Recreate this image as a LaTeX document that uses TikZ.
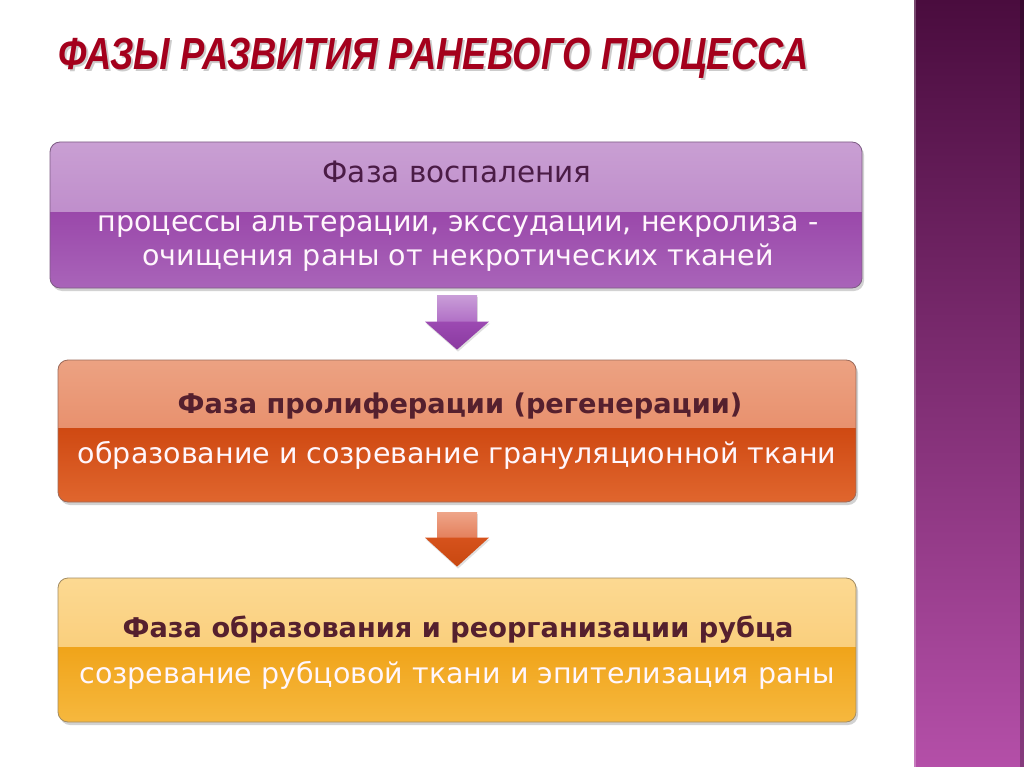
\documentclass[tikz,border=0pt]{standalone}
\usepackage{fontspec}
\usetikzlibrary{calc,shadows}
\newfontfamily\bodyf{DejaVu Sans}
\newfontfamily\titlef[FakeStretch=0.81]{Liberation Sans}
\definecolor{titlered}{HTML}{A4001C}
\definecolor{bandtop}{HTML}{4A0C3E}
\definecolor{bandbot}{HTML}{B44FA8}
\definecolor{hdpurple}{HTML}{4B1C46}
\definecolor{hdbrown}{HTML}{55202E}
\definecolor{bodywhite}{HTML}{FFF6FC}
\definecolor{pA}{HTML}{C99FD3}\definecolor{pB}{HTML}{B57CC3}\definecolor{pC}{HTML}{9A48AA}\definecolor{pD}{HTML}{A964B9}\definecolor{pE}{HTML}{7D5C84}
\definecolor{oA}{HTML}{ECA282}\definecolor{oB}{HTML}{E47E58}\definecolor{oC}{HTML}{CF4912}\definecolor{oD}{HTML}{E0662E}\definecolor{oE}{HTML}{9C6A5A}
\definecolor{yA}{HTML}{FCD992}\definecolor{yB}{HTML}{F8C466}\definecolor{yC}{HTML}{F0A41A}\definecolor{yD}{HTML}{F6B83E}\definecolor{yE}{HTML}{A38C62}
\definecolor{apA}{HTML}{C99DD8}\definecolor{apB}{HTML}{B170C6}\definecolor{apC}{HTML}{9C4AB2}\definecolor{apD}{HTML}{8A3AA0}
\definecolor{aoA}{HTML}{EEA488}\definecolor{aoB}{HTML}{E4805C}\definecolor{aoC}{HTML}{D6521C}\definecolor{aoD}{HTML}{C84810}
\tikzset{
  phase/.style n args={5}{rounded corners=10pt, draw=#5, line width=0.8pt,
    drop shadow={opacity=0.35, shadow xshift=2pt, shadow yshift=-3pt},
    path picture={
      \shade[sharp corners, top color=#1, bottom color=#2] (path picture bounding box.north west) rectangle ($(path picture bounding box.north east)!0.48!(path picture bounding box.south east)$);
      \shade[sharp corners, top color=#3, bottom color=#4] ($(path picture bounding box.north west)!0.48!(path picture bounding box.south west)$) rectangle (path picture bounding box.south east);
    }},
  header/.style={anchor=base, inner sep=0pt, font=\bodyf\fontsize{29.5}{34}\selectfont},
  boldheader/.style={anchor=base, inner sep=0pt, text=hdbrown, font=\bodyf\bfseries\fontsize{27.2}{32}\selectfont},
  bodytext/.style={anchor=base, inner sep=0pt, text=bodywhite, font=\bodyf\fontsize{28.5}{33}\selectfont},
  arrshadow/.style={drop shadow={opacity=0.25, shadow xshift=1pt, shadow yshift=-2pt}},
}
\begin{document}
\begin{tikzpicture}[x=1pt,y=-1pt]
\useasboundingbox (0,0) rectangle (1024,767);
\fill[white] (0,0) rectangle (1024,767);
% right band
\shade[top color=bandtop, bottom color=bandbot] (914,0) rectangle (1024,767);
\fill[white, opacity=0.25] (914,0) rectangle (916,767);
\fill[black, opacity=0.25] (1020,0) rectangle (1024,767);
% title
\node[anchor=base west, inner sep=0pt, text=black, opacity=0.2, font=\titlef\fontsize{45}{50}\selectfont\bfseries\itshape] at (60,72) {ФАЗЫ РАЗВИТИЯ РАНЕВОГО ПРОЦЕССА};
\node[anchor=base west, inner sep=0pt, text=titlered, font=\titlef\fontsize{45}{50}\selectfont\bfseries\itshape] (title) at (58,70) {ФАЗЫ РАЗВИТИЯ РАНЕВОГО ПРОЦЕССА};
% boxes
\node[phase={pA}{pB}{pC}{pD}{pE}, minimum width=812pt, minimum height=146pt] (b1) at (456,215) {};
\node[phase={oA}{oB}{oC}{oD}{oE}, minimum width=798pt, minimum height=142pt] (b2) at (457,431) {};
\node[phase={yA}{yB}{yC}{yD}{yE}, minimum width=798pt, minimum height=144pt] (b3) at (457,650) {};
% texts
\node[header, text=hdpurple] (h1) at (457,183) {Фаза воспаления};
\node[bodytext] (t1a) at (458,232) {процессы альтерации, экссудации, некролиза -};
\node[bodytext] (t1b) at (458,265) {очищения раны от некротических тканей};
\node[boldheader] (h2) at (460,413) {Фаза пролиферации (регенерации)};
\node[bodytext] (t2) at (457,463) {образование и созревание грануляционной ткани};
\node[boldheader] (h3) at (458,637) {Фаза образования и реорганизации рубца};
\node[bodytext] (t3) at (457,683) {созревание рубцовой ткани и эпителизация раны};
% arrows
\coordinate (a1s) at ($(b1.south)+(1,7)$);
\coordinate (a1t) at ($(b2.north)+(0,-10)$);
\shade[top color=apA, bottom color=apB, arrshadow] ($(a1s)+(-20,0)$) rectangle ($(a1t)+(20,-28)$);
\shade[top color=apC, bottom color=apD, arrshadow] ($(a1t)+(-32,-28)$) -- ($(a1t)+(32,-28)$) -- (a1t) -- cycle;
\coordinate (a2s) at ($(b2.south)+(0,10)$);
\coordinate (a2t) at ($(b3.north)+(0,-11)$);
\shade[top color=aoA, bottom color=aoB, arrshadow] ($(a2s)+(-20,0)$) rectangle ($(a2t)+(20,-29)$);
\shade[top color=aoC, bottom color=aoD, arrshadow] ($(a2t)+(-32,-29)$) -- ($(a2t)+(32,-29)$) -- (a2t) -- cycle;
\end{tikzpicture}
\end{document}
